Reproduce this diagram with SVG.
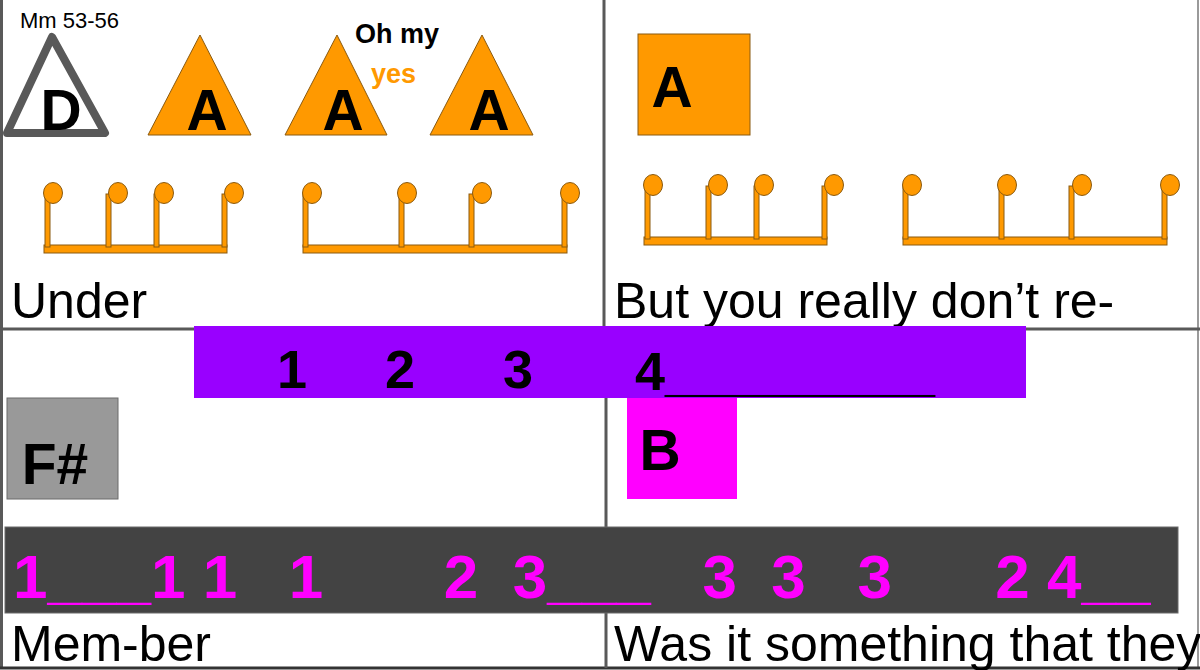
<svg xmlns="http://www.w3.org/2000/svg" width="1200" height="670" viewBox="0 0 1200 670">
<style>
.frame{stroke:#595959;stroke-width:3;fill:none}
.sans{font-family:"Liberation Sans",Arial,sans-serif}
.lyric{font-family:"Liberation Sans",Arial,sans-serif;font-size:50px;fill:#000}
.chord{font-family:"Liberation Sans",Arial,sans-serif;font-weight:bold;font-size:57px;fill:#000;text-anchor:middle}
.orange{fill:#FF9900;stroke:#8a5a10;stroke-width:1}
.count{font-family:"Liberation Sans",Arial,sans-serif;font-weight:bold;font-size:54px;fill:#000}
.pink{font-family:"Liberation Sans",Arial,sans-serif;font-weight:bold;font-size:62px;fill:#FF00FF;white-space:pre}
</style>
<defs>
<g id="beat-row" class="orange">
<rect x="44" y="245" width="183" height="8"/>
<rect x="45" y="194" width="5" height="53"/>
<rect x="106" y="194" width="5" height="53"/>
<rect x="154" y="194" width="5" height="53"/>
<rect x="222" y="194" width="5" height="53"/>
<ellipse cx="53" cy="193" rx="9.5" ry="10.5"/>
<ellipse cx="118" cy="193" rx="9.5" ry="10.5"/>
<ellipse cx="164" cy="193" rx="9.5" ry="10.5"/>
<ellipse cx="234" cy="193" rx="9.5" ry="10.5"/>
<rect x="303" y="245" width="264" height="8"/>
<rect x="303" y="194" width="5" height="53"/>
<rect x="399" y="194" width="5" height="53"/>
<rect x="469" y="194" width="5" height="53"/>
<rect x="562" y="194" width="5" height="53"/>
<ellipse cx="312" cy="193" rx="9.5" ry="10.5"/>
<ellipse cx="407" cy="193" rx="9.5" ry="10.5"/>
<ellipse cx="482" cy="193" rx="9.5" ry="10.5"/>
<ellipse cx="570" cy="193" rx="9.5" ry="10.5"/>
</g>
</defs>
<rect width="1200" height="670" fill="#fff"/>
<g id="frame">
<line class="frame" x1="1.5" y1="0" x2="1.5" y2="668"/>
<line x1="1198" y1="0" x2="1198" y2="668" stroke="#9a9a9a" stroke-width="2"/>
<line x1="0" y1="668" x2="1200" y2="668" stroke="#333" stroke-width="3"/>
<line class="frame" x1="0" y1="329" x2="1200" y2="329"/>
<line class="frame" x1="604" y1="0" x2="604" y2="329"/>
<line class="frame" x1="606" y1="329" x2="606" y2="668"/>
</g>
<g id="measure-label"><text class="sans" x="20" y="28" font-size="22">Mm 53-56</text></g>
<g id="chord-D">
<polygon points="7,133 52,37 105,133" fill="none" stroke="#595959" stroke-width="8" stroke-linejoin="round"/>
<text class="chord" x="61" y="130">D</text>
</g>
<g id="chord-A1">
<polygon class="orange" points="148,135 200,35 251,135"/>
<text class="chord" x="207" y="130">A</text>
</g>
<g id="chord-A2">
<polygon class="orange" points="285,135 337,35 387,135"/>
<text class="chord" x="343" y="130">A</text>
</g>
<g id="chord-A3">
<polygon class="orange" points="430,135 482,35 533,135"/>
<text class="chord" x="489" y="130">A</text>
</g>
<g id="oh-my">
<text class="sans" x="355" y="43" font-size="27" font-weight="bold" fill="#000">Oh my</text>
<text class="sans" x="371" y="83" font-size="27" font-weight="bold" fill="#FF9900">yes</text>
</g>
<g id="rhythm-left"><use href="#beat-row"/></g>
<g id="rhythm-right"><use href="#beat-row" transform="translate(600,-8)"/></g>
<g id="chord-A-square">
<rect class="orange" x="638" y="34" width="112" height="101"/>
<text class="chord" x="672" y="107">A</text>
</g>
<g id="lyric-under"><text class="lyric" x="11" y="318">Under</text></g>
<g id="lyric-but"><text class="lyric" x="614" y="318">But you really don’t re-</text></g>
<g id="chord-Fsharp">
<rect x="7" y="398" width="111" height="101" fill="#999999" stroke="#6b6b6b" stroke-width="1"/>
<text class="chord" x="55" y="484">F#</text>
</g>
<g id="chord-B">
<rect x="627" y="398" width="110" height="101" fill="#FF00FF"/>
<text class="chord" x="660" y="470">B</text>
</g>
<g id="count-bar">
<rect x="194" y="326" width="832" height="72" fill="#9900FF"/>
<text class="count" x="277" y="388">1</text>
<text class="count" x="385" y="388">2</text>
<text class="count" x="503" y="388">3</text>
<text class="count" x="635" y="390" textLength="300" lengthAdjust="spacingAndGlyphs">4_________</text>
</g>
<g id="finger-bar">
<rect x="5" y="527" width="1173" height="86" fill="#434343" stroke="#6a6a6a" stroke-width="1"/>
<text class="pink" x="13" y="598" xml:space="preserve">1___1 1   1       2  3___   3  3   3      2 4__</text>
</g>
<g id="lyric-member"><text class="lyric" x="11" y="661">Mem-ber</text></g>
<g id="lyric-was"><text class="lyric" x="614" y="661">Was it something that they</text></g>
</svg>
